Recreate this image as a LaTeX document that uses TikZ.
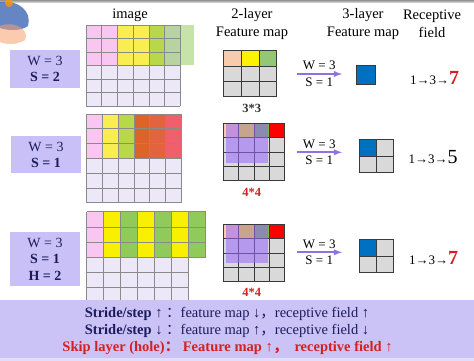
\documentclass[tikz,border=0pt]{standalone}
\usepackage{fontspec}
\setmainfont{Liberation Serif}
\newfontfamily\cjk{Noto Sans CJK SC}
\usepackage{tikz}

\definecolor{lav}{HTML}{ECE8F8}
\definecolor{gridgray}{HTML}{8A8A8A}
\definecolor{parambox}{HTML}{C9C0F7}
\definecolor{navy}{HTML}{1C1C5C}
\definecolor{bandc}{HTML}{CBC3F6}
\definecolor{bandlight}{HTML}{E2DEFA}
\definecolor{rfred}{HTML}{D42020}
\definecolor{arrowc}{HTML}{8F72E0}
\definecolor{fmgray}{HTML}{D9D9D9}
\definecolor{fmdark}{HTML}{3A3A3A}
\definecolor{outblue}{HTML}{0070C0}
\definecolor{hole}{HTML}{9966FF}
\definecolor{pinkc}{HTML}{F9C6F1}
\definecolor{yelA}{HTML}{F8EE50}
\definecolor{ygA}{HTML}{B8D84A}
\definecolor{grnA}{HTML}{B7D3A0}
\definecolor{grnX}{HTML}{C8E3AA}
\definecolor{orgB}{HTML}{DC6428}
\definecolor{redB}{HTML}{E2643F}
\definecolor{pnkB}{HTML}{F0606C}
\definecolor{yelC}{HTML}{F8F000}
\definecolor{grnC}{HTML}{8FCA5A}
\definecolor{peach}{HTML}{F8CBAD}
\definecolor{grnF}{HTML}{7AB850}
\definecolor{logoblue}{HTML}{3F66B4}
\definecolor{logoorange}{HTML}{F8A070}

\begin{document}
\begin{tikzpicture}[x=1pt, y=-1pt,
        cellline/.style = {draw=gridgray, line width=0.6pt},
        fmline/.style = {draw=fmdark, line width=0.6pt},
        param/.style = {fill=parambox, text=navy, align=center, inner sep=0pt, minimum width=70,
                        font=\fontsize{14}{16.5}\selectfont},
        head/.style = {align=center, font=\fontsize{14.5}{18}\selectfont},
        ws/.style = {inner sep=1pt, font=\fontsize{13}{15}\selectfont},
        rf/.style = {anchor=base west, inner sep=0pt, font=\fontsize{13}{15}\selectfont},
        size/.style = {font=\bfseries\fontsize{12.5}{14}\selectfont},
        sumtxt/.style = {text=navy, font=\fontsize{14.5}{16}\selectfont},
        conv/.style = {->, draw=arrowc, line width=1.8pt},
        >=latex
        ]
        \useasboundingbox (0,0) rectangle (474,361);

        % slide decoration
        \shade[top color=gray!85, bottom color=gray!25] (0,0) rectangle (474,2.7);
        \fill[logoblue, opacity=0.8] (0,2) .. controls (20,0) and (32,12) .. (28,26) .. controls (20,32) and (5,30) .. (0,28) -- cycle;
        \fill[logoorange, opacity=0.55] (0,26) .. controls (15,20) and (30,30) .. (25,40) .. controls (15,46) and (5,44) .. (0,42) -- cycle;
        \fill[orange!80!yellow, opacity=0.8] (9,3) circle (4);

        % headers
        \node (himg) at (130,15)  [head] {image};
        \node (hfm2) at (252,24)  [head] {2-layer\\Feature map};
        \node (hfm3) at (363,24)  [head] {3-layer\\Feature map};
        \node (hrf)  at (432,24)  [head] {Receptive\\field};

        % parameter boxes
        \node (p1) at (45,69)    [param, minimum height=38] {W = 3\\\textbf{S = 2}};
        \node (p2) at (46,154.7) [param, minimum height=37] {W = 3\\\textbf{S = 1}};
        \node (p3) at (45,259.2) [param, minimum height=54] {W = 3\\\textbf{S = 1}\\\textbf{H = 2}};

        % image 1: W=3, S=2
        \fill[lav] (86,25) rectangle (180.2,106);
        \foreach \c [count=\i from 0] in {pinkc,pinkc,yelA,yelA,ygA,grnA}
            \fill[\c] (86+\i*15.7,25) rectangle ++(15.7,40.5);
        \fill[grnX] (180.2,25) rectangle (193.5,65.5);
        \foreach \i in {0,...,6} \draw[cellline] (86+\i*15.7,25) -- ++(0,81);
        \foreach \j in {0,...,6} \draw[cellline] (86,25+\j*13.5) -- ++(94.2,0);

        % image 2: W=3, S=1
        \fill[lav] (86.7,114) rectangle (181,202.7);
        \foreach \c [count=\i from 0] in {pinkc,yelA,ygA,orgB,redB,pnkB}
            \fill[\c] (86.7+\i*15.72,114) rectangle ++(15.72,43.6);
        \foreach \i in {0,...,6} \draw[cellline] (86.7+\i*15.72,114) -- ++(0,88.7);
        \foreach \j in {0,...,6} \draw[cellline] (86.7,114+\j*14.78) -- ++(94.3,0);

        % image 3: W=3, S=1, H=2
        \fill[lav] (86.7,211.7) rectangle (188.7,302);
        \foreach \c [count=\i from 0] in {pinkc,yelC,grnC,yelC,grnC,yelC,grnC}
            \fill[\c] (86.7+\i*17,211.7) rectangle ++(17,45.6);
        \foreach \i in {0,...,6} \draw[cellline] (86.7+\i*17,211.7) -- ++(0,90.3);
        \draw[cellline] (205.7,211.7) -- ++(0,45.6);
        \foreach \j in {0,...,3} \draw[cellline] (86.7,211.7+\j*15.2) -- ++(119,0);
        \foreach \j in {4,5} \draw[cellline] (86.7,211.7+\j*15.2) -- ++(102,0);

        % 2-layer map, row 1
        \fill[fmgray] (223.3,50.7) rectangle ++(53.4,45.9);
        \foreach \c [count=\i from 0] in {peach,yellow,grnF!80!white}
            \fill[\c] (223.3+\i*17.8,50.7) rectangle ++(17.8,15.3);
        \foreach \i in {1,2} \draw[fmline] (223.3+\i*17.8,50.7) -- ++(0,45.9);
        \foreach \j in {1,2} \draw[fmline] (223.3,50.7+\j*15.3) -- ++(53.4,0);
        \draw[fmdark, line width=1pt] (223.3,50.7) rectangle ++(53.4,45.9);
        \node (n1) at (251.7,108) [size, text=black!80] {3*3};

        % 2-layer maps, rows 2 and 3
        \foreach \dy/\k in {0/2, 100.7/3} {
            \fill[fmgray] (223.3,123.3+\dy) rectangle ++(61.6,57.6);
            \foreach \c [count=\i from 0] in {peach,yellow,grnF,red}
                \fill[\c] (223.3+\i*15.4,123.3+\dy) rectangle ++(15.4,14.4);
            \foreach \i in {1,2,3} \draw[fmline] (223.3+\i*15.4,123.3+\dy) -- ++(0,57.6);
            \foreach \j in {1,2,3} \draw[fmline] (223.3,123.3+\dy+\j*14.4) -- ++(61.6,0);
            \fill[hole, opacity=0.55] (226,124.3+\dy) rectangle (268.3,162.7+\dy);
            \draw[fmdark, line width=1pt] (223.3,123.3+\dy) rectangle ++(61.6,57.6);
            \node (n\k) at (251.7,192+\dy) [size, text=rfred] {4*4};
        }

        % convolution arrows
        \foreach \y/\k in {74/1, 152.3/2, 252.3/3} {
            \coordinate (c\k s) at (296.5,\y);
            \coordinate (c\k e) at (342,\y);
            \draw[conv] (c\k s) -- (c\k e)
                node[midway, above=2pt, ws] {W = 3}
                node[midway, below=2pt, ws] {S = 1};
        }

        % 3-layer maps
        \node (o1) at (366.3,74.5) [draw=fmdark, fill=outblue, line width=0.9pt, minimum size=19, inner sep=0pt] {};
        \foreach \dy in {0,100} {
            \fill[fmgray] (359,139+\dy) rectangle (393.3,172.7+\dy);
            \fill[outblue] (359,139+\dy) rectangle (376.2,155.9+\dy);
            \draw[fmline] (376.2,139+\dy) -- (376.2,172.7+\dy);
            \draw[fmline] (359,155.9+\dy) -- (393.3,155.9+\dy);
            \draw[fmdark, line width=1pt] (359,139+\dy) rectangle (393.3,172.7+\dy);
        }

        % receptive fields
        \node (r1) at (410,84.5)  [rf] {1→3→\textcolor{rfred}{\bfseries\fontsize{20}{20}\selectfont 7}};
        \node (r2) at (408.5,163.5) [rf] {1→3→{\fontsize{20}{20}\selectfont 5}};
        \node (r3) at (409,264)   [rf] {1→3→\textcolor{rfred}{\bfseries\fontsize{20}{20}\selectfont 7}};

        % summary band
        \fill[bandc] (0,300) rectangle (474,358);
        \fill[bandlight] (0,358) rectangle (474,361);
        \node (s1) at (227,314) [sumtxt] {\textbf{Stride/step ↑} {\cjk ：}feature map ↓{\cjk ，}receptive field ↑};
        \node (s2) at (227,331) [sumtxt] {\textbf{Stride/step ↓} {\cjk ：}feature map ↑{\cjk ，}receptive field ↓};
        \node (s3) at (227.5,348.3) [sumtxt, text=rfred, font=\bfseries\fontsize{14.5}{16}\selectfont]
            {Skip layer (hole){\cjk ：}\ Feature map ↑{\cjk ，}\ \ receptive field ↑};
    \end{tikzpicture}
\end{document}
